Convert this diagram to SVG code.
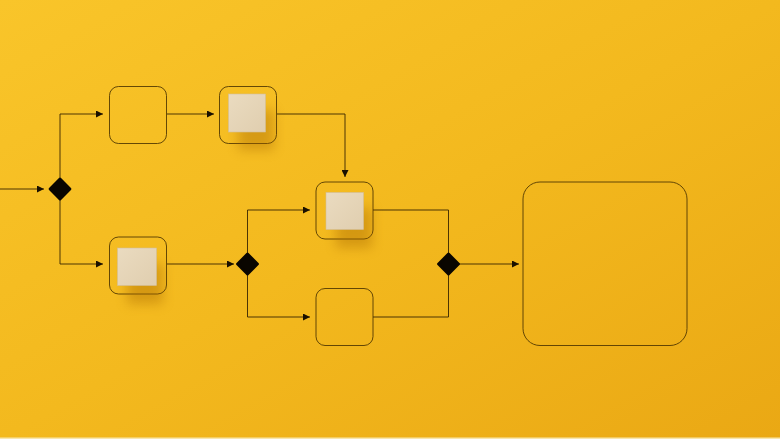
<svg xmlns="http://www.w3.org/2000/svg" width="780" height="439" viewBox="0 0 780 439">
<defs>
<linearGradient id="bg" x1="0" y1="0" x2="1" y2="1">
<stop offset="0" stop-color="#F9C52A"/>
<stop offset="0.5" stop-color="#F3B91E"/>
<stop offset="1" stop-color="#EAA814"/>
</linearGradient>
<linearGradient id="cube" x1="0" y1="0" x2="1" y2="1">
<stop offset="0" stop-color="#EADBC0"/>
<stop offset="1" stop-color="#E0CEAF"/>
</linearGradient>
<filter id="sh" x="-50%" y="-50%" width="250%" height="250%">
<feGaussianBlur stdDeviation="6"/>
</filter>
<marker id="ah" viewBox="0 0 10 10" refX="10" refY="5" markerWidth="7" markerHeight="7" markerUnits="userSpaceOnUse" orient="auto">
<path d="M0,0 L10,5 L0,10 Z" fill="#1a1000"/>
</marker>
<style>
.box{fill:none;stroke:#4a3200;stroke-width:1;stroke-opacity:0.85}
.ln{fill:none;stroke:#3a2600;stroke-width:1;stroke-opacity:0.9}
.dia{fill:#0a0600;stroke:#0a0600;stroke-width:3;stroke-linejoin:round}
.shadow{fill:#A86800;opacity:0.4}
.cube{fill:url(#cube);stroke:#D2BE9A;stroke-width:0.6}
</style>
</defs>
<rect width="780" height="439" fill="url(#bg)"/>
<rect x="0" y="437.5" width="780" height="1.5" fill="#F8E7B0"/>

<g id="connectors">
<line class="ln" x1="0" y1="189" x2="44" y2="189" marker-end="url(#ah)"/>
<polyline class="ln" points="60,189 60,114 103,114" marker-end="url(#ah)"/>
<polyline class="ln" points="60,189 60,264 103,264" marker-end="url(#ah)"/>
<line class="ln" x1="167" y1="114" x2="214" y2="114" marker-end="url(#ah)"/>
<polyline class="ln" points="277,114 345,114 345,177" marker-end="url(#ah)"/>
<line class="ln" x1="167" y1="264" x2="234" y2="264" marker-end="url(#ah)"/>
<polyline class="ln" points="247.5,264 247.5,210 310,210" marker-end="url(#ah)"/>
<polyline class="ln" points="247.5,264 247.5,317 310,317" marker-end="url(#ah)"/>
<polyline class="ln" points="373,210 448.5,210 448.5,317 373,317"/>
<line class="ln" x1="448.5" y1="264" x2="519" y2="264" marker-end="url(#ah)"/>
</g>

<g id="gateway1"><rect class="dia" x="53" y="182" width="14" height="14" transform="rotate(45 60 189)"/></g>
<g id="gateway2"><rect class="dia" x="240.5" y="257" width="14" height="14" transform="rotate(45 247.5 264)"/></g>
<g id="gateway3"><rect class="dia" x="441.5" y="257" width="14" height="14" transform="rotate(45 448.5 264)"/></g>

<g id="task1"><rect class="box" x="109.5" y="86.5" width="57" height="57" rx="9"/></g>

<g id="task2">
<rect class="box" x="219.5" y="86.5" width="57" height="57" rx="9"/>
<rect class="shadow" x="238" y="110" width="36" height="40" filter="url(#sh)"/>
<rect class="cube" x="228.5" y="94" width="37" height="38"/>
</g>

<g id="task3">
<rect class="box" x="109.5" y="237" width="57" height="57" rx="9"/>
<rect class="shadow" x="127" y="264" width="36" height="40" filter="url(#sh)"/>
<rect class="cube" x="117.5" y="248" width="39" height="37.5"/>
</g>

<g id="task4">
<rect class="box" x="316" y="182" width="57" height="57" rx="9"/>
<rect class="shadow" x="336" y="208" width="36" height="40" filter="url(#sh)"/>
<rect class="cube" x="326" y="192.5" width="37.5" height="37"/>
</g>

<g id="task5"><rect class="box" x="316" y="288.5" width="57" height="57" rx="9"/></g>

<g id="end"><rect class="box" x="523" y="182" width="164" height="163.5" rx="17"/></g>
</svg>
